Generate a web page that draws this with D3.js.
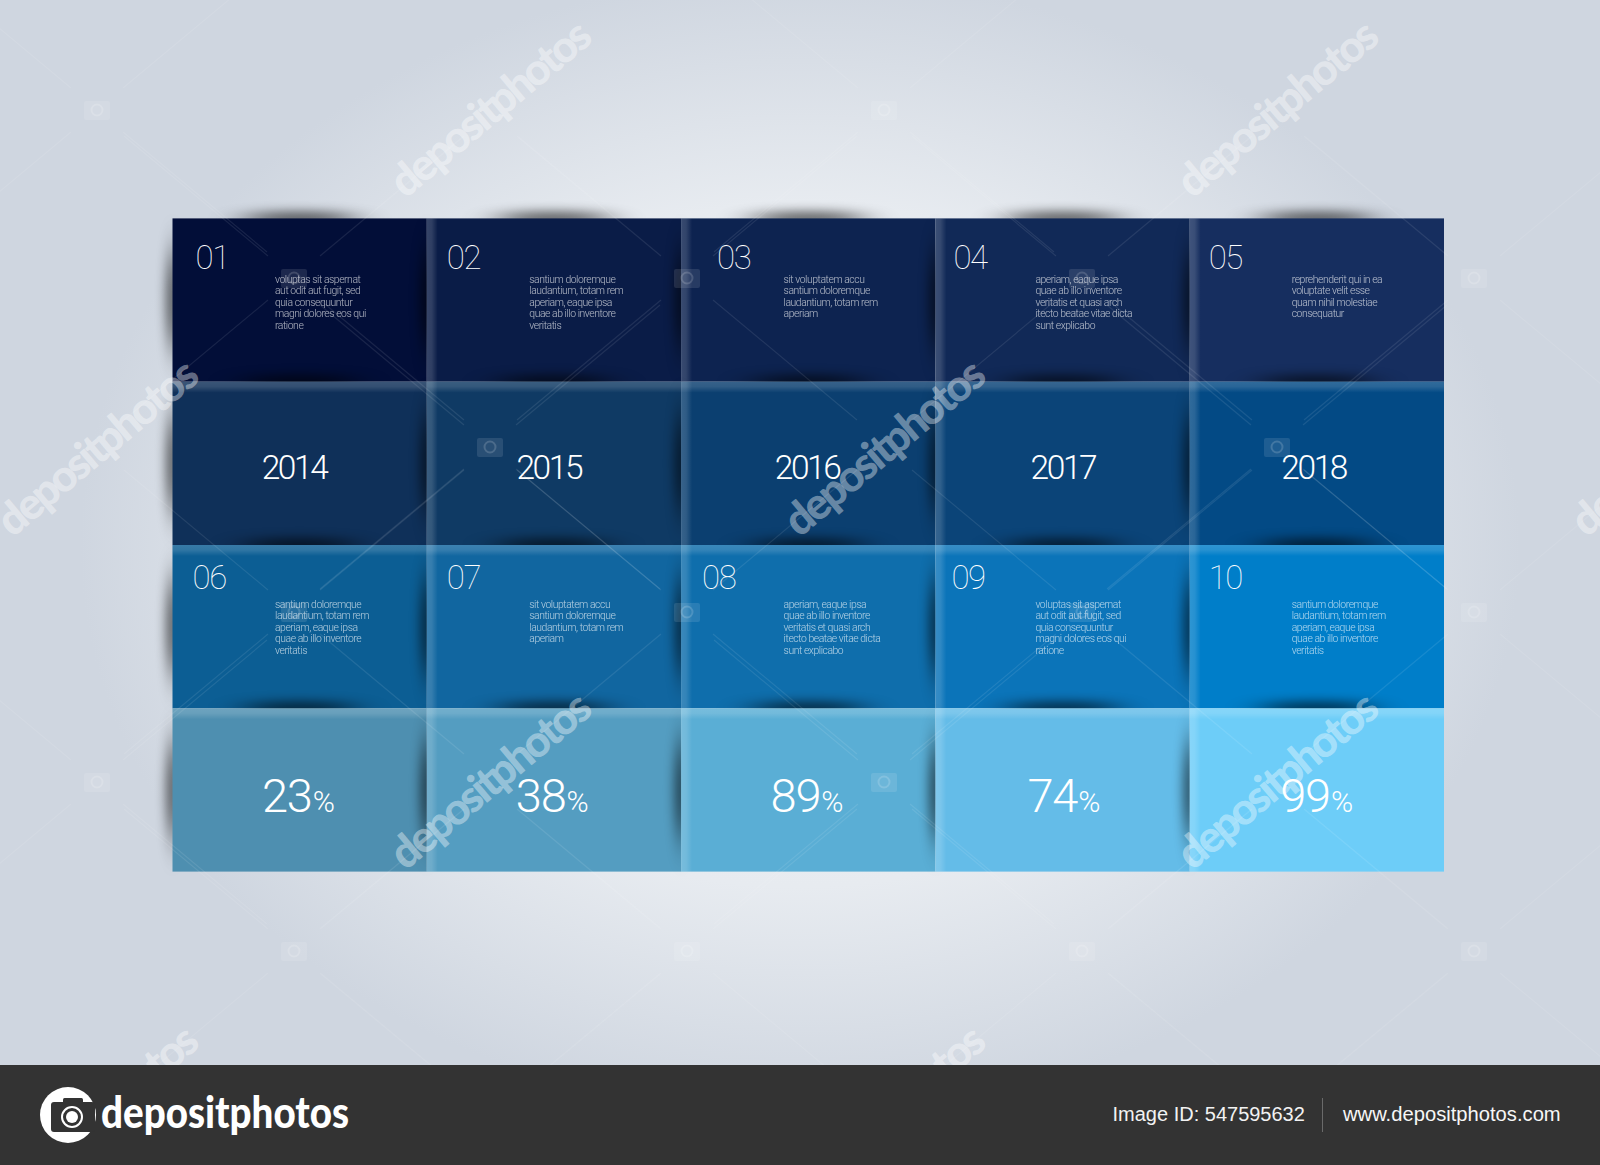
<!DOCTYPE html>
<html>
<head>
<meta charset="utf-8">
<script src="https://cdn.jsdelivr.net/npm/d3@7"></script>
<style>
  html, body { margin: 0; padding: 0; background: #cfd6e0; }
  svg { display: block; }
</style>
</head>
<body>
<svg id="chart"></svg>
<script>
// table content
var stepNumbers = ['01','02','03','04','05','06','07','08','09','10'];
var years = ['2014','2015','2016','2017','2018'];
var percents = [23, 38, 89, 74, 99];
var descriptions = [
  ['voluptas sit aspernat','aut odit aut fugit, sed','quia consequuntur','magni dolores eos qui','ratione'],
  ['santium doloremque','laudantium, totam rem','aperiam, eaque ipsa','quae ab illo inventore','veritatis'],
  ['sit voluptatem accu','santium doloremque','laudantium, totam rem','aperiam'],
  ['aperiam, eaque ipsa','quae ab illo inventore','veritatis et quasi arch','itecto beatae vitae dicta','sunt explicabo'],
  ['reprehenderit qui in ea','voluptate velit esse','quam nihil molestiae','consequatur'],
  ['santium doloremque','laudantium, totam rem','aperiam, eaque ipsa','quae ab illo inventore','veritatis'],
  ['sit voluptatem accu','santium doloremque','laudantium, totam rem','aperiam'],
  ['aperiam, eaque ipsa','quae ab illo inventore','veritatis et quasi arch','itecto beatae vitae dicta','sunt explicabo'],
  ['voluptas sit aspernat','aut odit aut fugit, sed','quia consequuntur','magni dolores eos qui','ratione'],
  ['santium doloremque','laudantium, totam rem','aperiam, eaque ipsa','quae ab illo inventore','veritatis']
];

// one row of cell colours per table row
var rowColors = [
  ['#020e38','#0a1c47','#0d2350','#112957','#162e5f'],
  ['#0f3059','#0f3a64','#0b3f70','#0b4478','#034a85'],
  ['#0c5e94','#1166a0','#0f6eac','#0b74b9','#007ec9'],
  ['#4e8fb0','#549dc1','#5aaed5','#64bce8','#6dcdf8']
];

var width = 1600, height = 1165, footerTop = 1065;

var svg = d3.select('#chart').attr('width', width).attr('height', height);
var defs = svg.append('defs');

var x = d3.scaleBand().domain(d3.range(5)).range([172.5, 1444]);
var y = d3.scaleBand().domain(d3.range(4)).range([218.4, 871.6]);

// how far each label sits from the left edge of its cell
var numberNudge = [23, 20, 36, 18, 19, 20, 20, 21, 16, 19];
var textNudge = [102.5, 102.5, 102.5, 100, 102];
var yearMid = [121.5, 122, 126, 127.5, 124];
var percentNudge = [89.5, 89, 89.5, 92, 90.5];

// background
var bgGrad = defs.append('radialGradient').attr('id','bgGrad')
  .attr('gradientUnits','userSpaceOnUse')
  .attr('cx',800).attr('cy',545).attr('r',1)
  .attr('gradientTransform','translate(800,545) scale(720,570) translate(-800,-545)');
bgGrad.append('stop').attr('offset',0).attr('stop-color','#f6f7f9');
bgGrad.append('stop').attr('offset',0.6).attr('stop-color','#e7ebf0');
bgGrad.append('stop').attr('offset',1).attr('stop-color','#cfd6e0');

svg.append('rect').attr('width',width).attr('height',height).attr('fill','url(#bgGrad)');

function blurFilter(id, sdX, sdY) {
  defs.append('filter').attr('id',id)
    .attr('filterUnits','userSpaceOnUse')
    .attr('x',0).attr('y',0).attr('width',width).attr('height',height)
    .append('feGaussianBlur').attr('stdDeviation', sdX + ' ' + sdY);
}
blurFilter('softTop', 18, 6);
blurFilter('softLeft', 6, 18);

var hiLeft = defs.append('linearGradient').attr('id','hiLeft');
var hiTop = defs.append('linearGradient').attr('id','hiTop').attr('x2',0).attr('y2',1);
[hiLeft, hiTop].forEach(function(g){
  g.append('stop').attr('offset',0).attr('stop-color','#fff').attr('stop-opacity',0.18);
  g.append('stop').attr('offset',0.45).attr('stop-color','#fff').attr('stop-opacity',0.15);
  g.append('stop').attr('offset',1).attr('stop-color','#fff').attr('stop-opacity',0);
});

// cells, drawn top-left to bottom-right so each shadow falls on its neighbours
var cells = d3.cross(d3.range(4), d3.range(5), function(r,c){ return {r:r, c:c}; });

var cell = svg.append('g').attr('class','cells').selectAll('g')
  .data(cells).enter().append('g');

cell.append('ellipse')
  .attr('cx', function(d){ return x(d.c) + x.bandwidth()/2; })
  .attr('cy', function(d){ return y(d.r); })
  .attr('rx', 58).attr('ry', 6)
  .attr('fill', '#000').attr('opacity', 0.7)
  .attr('filter','url(#softTop)');

cell.append('ellipse')
  .attr('cx', function(d){ return x(d.c); })
  .attr('cy', function(d){ return y(d.r) + y.bandwidth()/2; })
  .attr('rx', 6).attr('ry', 52)
  .attr('fill', '#000').attr('opacity', 0.65)
  .attr('filter','url(#softLeft)');

cell.append('rect')
  .attr('x', function(d){ return x(d.c); })
  .attr('y', function(d){ return y(d.r); })
  .attr('width', x.bandwidth()).attr('height', y.bandwidth())
  .attr('fill', function(d){ return rowColors[d.r][d.c]; });

cell.filter(function(d){ return d.c > 0; }).append('rect')
  .attr('x', function(d){ return x(d.c); })
  .attr('y', function(d){ return y(d.r); })
  .attr('width', 11).attr('height', y.bandwidth())
  .attr('fill','url(#hiLeft)');

cell.filter(function(d){ return d.r > 0; }).append('rect')
  .attr('x', function(d){ return x(d.c); })
  .attr('y', function(d){ return y(d.r); })
  .attr('width', x.bandwidth()).attr('height', 11)
  .attr('fill','url(#hiTop)');

// step numbers, rows 0 and 2
var labels = svg.append('g').attr('fill','#fff').attr('font-family','Roboto, sans-serif');

labels.selectAll('text.step').data(stepNumbers).enter().append('text')
  .attr('class','step')
  .attr('x', function(d,i){ return x(i % 5) + numberNudge[i]; })
  .attr('y', function(d,i){ return i < 5 ? y(0) + 50.5 : y(2) + 44; })
  .attr('font-size', 33).attr('font-weight', 100)
  .attr('letter-spacing', -1.4)
  .text(function(d){ return d; });

labels.selectAll('g.desc').data(descriptions).enter().append('g')
  .attr('class','desc')
  .attr('opacity',0.68)
  .attr('transform', function(d,i){
    return 'translate(' + (x(i % 5) + textNudge[i % 5]) + ',' + (i < 5 ? y(0) + 64.5 : y(2) + 62.5) + ')';
  })
  .selectAll('text').data(function(d){ return d; }).enter().append('text')
  .attr('y', function(d,i){ return i * 11.5; })
  .attr('font-size', 10.4).attr('font-weight', 300)
  .attr('letter-spacing', -0.45)
  .text(function(d){ return d; });

labels.selectAll('text.year').data(years).enter().append('text')
  .attr('class','year')
  .attr('x', function(d,i){ return x(i) + yearMid[i]; })
  .attr('y', y(1) + 97.5)
  .attr('text-anchor','middle')
  .attr('font-size', 33.5).attr('font-weight', 300)
  .attr('letter-spacing', -2.4)
  .text(function(d){ return d; });

var pct = labels.selectAll('text.pct').data(percents).enter().append('text')
  .attr('class','pct')
  .attr('x', function(d,i){ return x(i) + percentNudge[i]; })
  .attr('y', y(3) + 104)
  .attr('font-size', 47).attr('font-weight', 300)
  .attr('letter-spacing', -1.2);
pct.append('tspan').text(function(d){ return d; });
pct.append('tspan').attr('font-size', 30).attr('letter-spacing', 0).attr('dx', 1).text('%');

// stock photo marks lying over the whole picture
var markSpots = [[490,110],[1277,110],[97,449],[884,449],[1671,449],[490,782],[1277,782],[97,1115],[884,1115]];
var cameraSpots = [
  [97,110],[884,110],
  [294,278],[687,278],[1082,278],[1474,278],
  [490,447],[1277,447],
  [294,612],[687,612],[1082,612],[1474,612],
  [97,782],[884,782],
  [294,951],[687,951],[1082,951],[1474,951]
];

var marks = svg.append('g').attr('class','marks');

var camera = marks.selectAll('g.cam').data(cameraSpots).enter().append('g')
  .attr('class','cam')
  .attr('transform', function(d){ return 'translate(' + d[0] + ',' + d[1] + ')'; });

[[-1,-1],[1,-1],[-1,1],[1,1]].forEach(function(dir){
  camera.append('line')
    .attr('x1', dir[0]*26).attr('y1', dir[1]*22)
    .attr('x2', dir[0]*170).attr('y2', dir[1]*142)
    .attr('stroke','#fff').attr('stroke-opacity',0.09).attr('stroke-width',1.2);
});
camera.append('rect')
  .attr('x',-13).attr('y',-9).attr('width',26).attr('height',19).attr('rx',2)
  .attr('fill','#fff').attr('fill-opacity',0.11);
camera.append('circle')
  .attr('r',5.5).attr('fill','none')
  .attr('stroke','#fff').attr('stroke-opacity',0.16).attr('stroke-width',2);

marks.selectAll('text').data(markSpots).enter().append('text')
  .attr('transform', function(d){ return 'translate(' + d[0] + ',' + d[1] + ') rotate(-40)'; })
  .attr('text-anchor','middle').attr('dy',14)
  .attr('font-family','Lato, sans-serif').attr('font-weight',900)
  .attr('font-size',44).attr('letter-spacing',-3)
  .attr('fill','#fff').attr('fill-opacity',0.4)
  .text('depositphotos');

// footer
var footer = svg.append('g').attr('class','footer');
footer.append('rect').attr('y',footerTop).attr('width',width).attr('height',height-footerTop).attr('fill','#333333');
footer.append('circle').attr('cx',68).attr('cy',1115).attr('r',28).attr('fill','#fff');
footer.append('rect').attr('x',51).attr('y',1102).attr('width',44).attr('height',30).attr('rx',3).attr('fill','#333');
footer.append('rect').attr('x',63).attr('y',1098).attr('width',20).attr('height',6).attr('rx',1.5).attr('fill','#333');
footer.append('circle').attr('cx',72).attr('cy',1117).attr('r',10).attr('fill','none').attr('stroke','#fff').attr('stroke-width',2);
footer.append('circle').attr('cx',72).attr('cy',1117).attr('r',6).attr('fill','#fff');
footer.append('text').attr('x',101).attr('y',1128)
  .attr('font-family','Lato, sans-serif').attr('font-weight',900).attr('font-size',44)
  .attr('textLength',248).attr('lengthAdjust','spacingAndGlyphs')
  .attr('fill','#fff').text('depositphotos');

footer.append('text').attr('x',1112.5).attr('y',1121)
  .attr('font-family','Liberation Sans, Arial, sans-serif').attr('font-size',20)
  .attr('fill','#f2f2f2').text('Image ID: 547595632');
footer.append('line').attr('x1',1322.5).attr('x2',1322.5).attr('y1',1098).attr('y2',1132)
  .attr('stroke','#6a6a6a').attr('stroke-width',1);
footer.append('text').attr('x',1343).attr('y',1121)
  .attr('font-family','Liberation Sans, Arial, sans-serif').attr('font-size',20.2)
  .attr('fill','#f7f7f7').text('www.depositphotos.com');
</script>
</body>
</html>
